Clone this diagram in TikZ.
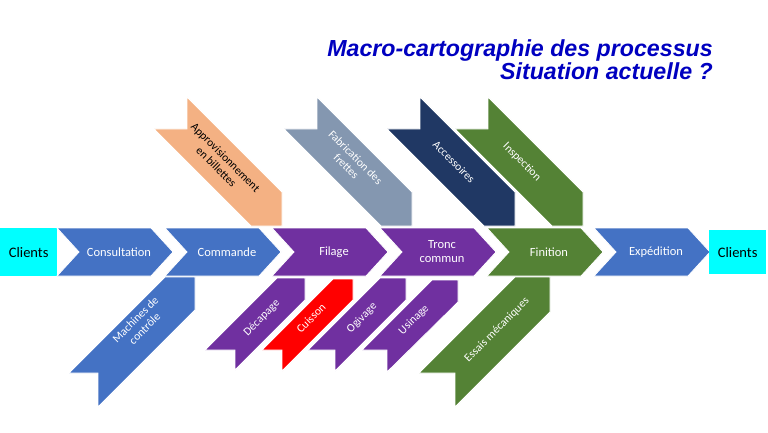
\documentclass[tikz,border=0pt]{standalone}
\usepackage{fontspec}
\setmainfont{Carlito}
\newfontfamily\titlefont{Liberation Sans}
\definecolor{cblue}{HTML}{4472C4}
\definecolor{cpurple}{HTML}{7030A0}
\definecolor{cgreen}{HTML}{548235}
\definecolor{corange}{HTML}{F4B183}
\definecolor{cgrey}{HTML}{8497B0}
\definecolor{cnavy}{HTML}{203864}
\definecolor{ctitle}{HTML}{0000C0}
\definecolor{ccyan}{HTML}{00FFFF}
\tikzset{
  shp/.style={draw=white,line width=0.8pt,line join=miter},
  lbl/.style={text=white,font=\fontsize{12.5}{14}\selectfont,align=center,inner sep=0pt},
  rlbl/.style={lbl,font=\fontsize{11.5}{13}\selectfont},
  clbox/.style={fill=ccyan,inner sep=0pt,font=\fontsize{14.5}{15}\selectfont,anchor=north west},
}
% upper ribbon: #1 x0, #2 colour, #3 name, #4 text, #5 text colour
\newcommand\upribbon[5]{%
  \fill[#2,shp] (#1,97) -- (#1,129) -- (#1-33,129) -- (#1+64,226) -- (#1+95,226) -- (#1+95,192) -- cycle;
  \node[rlbl,text=#5,rotate=-45] (#3) at (#1+34,162) {#4};}
\newcommand\chev[4]{% #1 start x, #2 colour, #3 name, #4 text
  \fill[#2,shp] (#1,228) -- (#1+94,228) -- (#1+116,252) -- (#1+94,276) -- (#1,276) -- (#1+22,252) -- cycle;
  \node[lbl] (#3) at (#1+62,252) {#4};}
\begin{document}
\begin{tikzpicture}[x=1pt,y=-1pt]
\useasboundingbox (0,0) rectangle (768,433);
\fill[white] (0,0) rectangle (768,433);
% title
\node[font=\titlefont\bfseries\itshape\fontsize{23.2}{23.5}\selectfont,text=ctitle,align=right,anchor=north east,inner sep=0pt] (title) at (713,39) {Macro-cartographie des processus\\Situation actuelle ?};
% upper ribbons
\upribbon{187}{corange}{appro}{Approvisionnement\\en billettes}{black}
\upribbon{317}{cgrey}{fab}{Fabrication des\\frettes}{white}
\upribbon{420}{cnavy}{acc}{Accessoires}{white}
\upribbon{488}{cgreen}{insp}{Inspection}{white}
% lower ribbons
\fill[cblue,shp] (165,277) -- (195,277) -- (195,310) -- (98,407) -- (98,373) -- (69,373) -- cycle;
\node[rlbl,rotate=45] (mach) at (140,324) {Machines de\\contrôle};
\fill[cpurple,shp] (277,278) -- (305,278) -- (305,300) -- (235,370) -- (235,350) -- (205,350) -- cycle;
\node[rlbl,rotate=45] (deca) at (262,318) {Décapage};
\fill[red,shp] (333,279) -- (353,279) -- (353,300) -- (282,371) -- (282,350) -- (262,350) -- cycle;
\node[rlbl,rotate=45] (cuis) at (311,318) {Cuisson};
\fill[cpurple,shp] (380,278) -- (406,278) -- (406,300) -- (335,371) -- (335,350) -- (308,350) -- cycle;
\node[rlbl,rotate=45] (ogiv) at (362,318) {Ogivage};
\fill[cpurple,shp] (432,280) -- (458,280) -- (458,302) -- (387,372) -- (387,350) -- (362,350) -- cycle;
\node[rlbl,rotate=45] (usin) at (414,320) {Usinage};
\fill[cgreen,shp] (515,277) -- (550,277) -- (550,312) -- (455,407) -- (455,373) -- (419,373) -- cycle;
\node[rlbl,rotate=45] (essais) at (497,330) {Essais mécaniques};
% main row
\node[clbox,minimum width=57pt,minimum height=48pt] (cl1) at (0,228) {Clients};
\chev{57}{cblue}{cons}{Consultation}
\chev{165}{cblue}{comm}{Commande}
\chev{272}{cpurple}{fila}{Filage}
\chev{380}{cpurple}{tronc}{Tronc\\commun}
\chev{487}{cgreen}{fini}{Finition}
\chev{594}{cblue}{exped}{Expédition}
\node[clbox,minimum width=57pt,minimum height=44pt] (cl2) at (709,230) {Clients};
\end{tikzpicture}
\end{document}
